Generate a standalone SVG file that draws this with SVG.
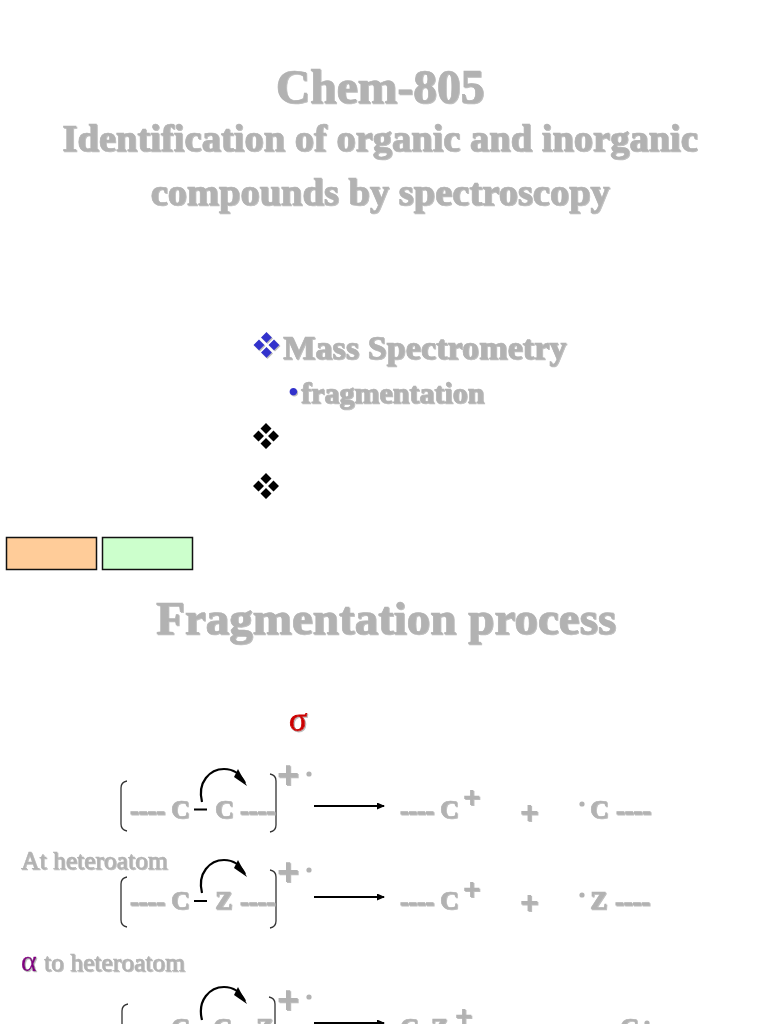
<svg xmlns="http://www.w3.org/2000/svg" width="768" height="1024" viewBox="0 0 768 1024">
<style>
text{font-family:"Liberation Serif","Times New Roman",serif;font-weight:bold;fill:#b2b2b2;stroke:#b2b2b2;stroke-width:.7;filter:url(#sh)}
.c{text-anchor:middle}
.t{font-size:26px}
.d{font-size:26px;stroke-width:1}
.sym{font-family:"Liberation Sans",Arial,sans-serif;stroke-width:0}
.n{font-weight:normal;stroke-width:.5}
.br{fill:none;stroke:#333;stroke-width:1.3}
.ar{fill:none;stroke:#000;stroke-width:2.2}
.ln{stroke:#000;stroke-width:2;fill:none}
.dot{fill:#b2b2b2}
.sp{filter:url(#sh)}
</style>
<defs>
<filter id="sh" x="-10%" y="-20%" width="120%" height="140%"><feDropShadow dx="1" dy="1" stdDeviation=".5" flood-color="#bdbdbd"/></filter>
<marker id="ah" markerWidth="8" markerHeight="7" refX="7" refY="3.500" orient="auto" markerUnits="userSpaceOnUse"><path d="M0 0L8 3.500L0 7Z" fill="#000"/></marker>
<path id="dm" d="M0 -13L5.500 -7.500L0 -2L-5.500 -7.500ZM0 13L5.500 7.500L0 2L-5.500 7.500ZM-13 0L-7.500 5.500L-2 0L-7.500 -5.500ZM13 0L7.500 5.500L2 0L7.500 -5.500Z"/>
<path id="hd" d="M238 769L247 786L234 777Z" fill="#000"/>
</defs>
<rect width="768" height="1024" fill="#fff"/>
<g id="title">
<text class="c" x="380" y="103" font-size="47.500">Chem-805</text>
<text class="c" x="380" y="151" font-size="38.500">Identification of organic and inorganic</text>
<text class="c" x="380" y="205" font-size="38.500">compounds by spectroscopy</text>
</g>
<g id="list">
<use href="#dm" x="266.500" y="345" fill="#3333cc" class="sp"/>
<text x="283" y="359" font-size="34.200">Mass Spectrometry</text>
<text x="288.500" y="401" font-size="28" style="fill:#3333cc;stroke:#3333cc;stroke-width:0">•</text>
<text x="301" y="403" font-size="30">fragmentation</text>
<use href="#dm" x="266" y="436" fill="#000"/>
<use href="#dm" x="266" y="486" fill="#000"/>
</g>
<g id="box-orange"><rect x="6.500" y="537.500" width="90" height="32" fill="#ffcc99" stroke="#111" stroke-width="1.500"/></g>
<g id="box-green"><rect x="102.500" y="537.500" width="90" height="32" fill="#ccffcc" stroke="#111" stroke-width="1.500"/></g>
<g id="heading"><text class="c" x="386" y="634" font-size="47">Fragmentation process</text></g>
<g id="sigma"><text x="289" y="731" font-size="34" style="font-weight:normal;fill:#cc0000;stroke:#cc0000;stroke-width:.9">σ</text></g>
<g id="row1">
<path class="br" d="M127 781Q121 782 121 788V824Q121 830 127 831M270 774Q276 775 276 781V825Q276 831 270 832"/>
<text x="130" y="819" class="d" textLength="35" lengthAdjust="spacingAndGlyphs">----</text>
<text x="171" y="818" class="t">C</text>
<text x="215" y="818" class="t">C</text>
<text x="240" y="819" class="d" textLength="35" lengthAdjust="spacingAndGlyphs">----</text>
<text x="277" y="788" font-size="38" class="sym">+</text>
<circle cx="309" cy="774" r="2.600" class="dot"/>
<text x="400" y="819" class="d" textLength="34" lengthAdjust="spacingAndGlyphs">----</text>
<text x="440" y="818" class="t">C</text>
<text x="463" y="807" font-size="30" class="sym">+</text>
<text x="520" y="823" font-size="32" class="sym">+</text>
<circle cx="582" cy="804" r="2.600" class="dot"/>
<text x="590" y="818" class="t">C</text>
<text x="616" y="819" class="d" textLength="35" lengthAdjust="spacingAndGlyphs">----</text>
</g>
<g id="label-hetero"><text x="21" y="869" font-size="25.500" class="n">At heteroatom</text></g>
<g id="row2">
<path class="br" d="M127 877Q121 878 121 884V920Q121 926 127 927M270 870Q276 871 276 877V921Q276 927 270 928"/>
<text x="130" y="910" class="d" textLength="35" lengthAdjust="spacingAndGlyphs">----</text>
<text x="171" y="909" class="t">C</text>
<text x="215" y="909" class="t">Z</text>
<text x="240" y="910" class="d" textLength="35" lengthAdjust="spacingAndGlyphs">----</text>
<text x="277" y="885" font-size="38" class="sym">+</text>
<circle cx="309" cy="870" r="2.600" class="dot"/>
<text x="400" y="910" class="d" textLength="34" lengthAdjust="spacingAndGlyphs">----</text>
<text x="440" y="909" class="t">C</text>
<text x="463" y="899" font-size="30" class="sym">+</text>
<text x="520" y="913" font-size="32" class="sym">+</text>
<circle cx="582" cy="895" r="2.600" class="dot"/>
<text x="590" y="909" class="t">Z</text>
<text x="615" y="910" class="d" textLength="35" lengthAdjust="spacingAndGlyphs">----</text>
</g>
<g id="label-alpha"><text x="21" y="971" font-size="30" style="font-weight:normal;fill:#800080;stroke:#800080;stroke-width:.3">α</text><text x="44" y="971" font-size="25.500" class="n">to heteroatom</text></g>
<g id="row3">
<path class="br" d="M128 1004Q122 1005 122 1011V1030M269 997Q275 998 275 1004V1030"/>
<text x="171" y="1036" class="t">C</text>
<text x="213" y="1036" class="t">C</text>
<text x="256" y="1036" class="t">Z</text>
<text x="277" y="1013" font-size="38" class="sym">+</text>
<circle cx="309" cy="997" r="2.600" class="dot"/>
<text x="400" y="1036" class="t" textLength="48" lengthAdjust="spacing">C-Z</text>
<text x="455" y="1026" font-size="30" class="sym">+</text>
<text x="520" y="1042" font-size="32" class="sym">+</text>
<text x="620" y="1036" class="t">C</text>
<circle cx="647" cy="1023" r="2.600" class="dot"/>
</g>
<g id="connectors">
<path class="ln" d="M314 806H384" marker-end="url(#ah)"/>
<path class="ln" d="M314 897H384" marker-end="url(#ah)"/>
<path class="ln" d="M314 1023H384" marker-end="url(#ah)"/>
<path class="ln" d="M194 809.500H207M194 901H207"/>
<path class="ar" d="M202 802C197 782 210 769 224 769C235 769 241 775 245 783"/>
<use href="#hd"/>
<path class="ar" d="M202 893C197 873 210 860 224 860C235 860 241 866 245 874"/>
<use href="#hd" y="91"/>
<path class="ar" d="M202 1020C197 1000 210 987 224 987C235 987 241 993 245 1001"/>
<use href="#hd" y="218"/>
</g>
</svg>
